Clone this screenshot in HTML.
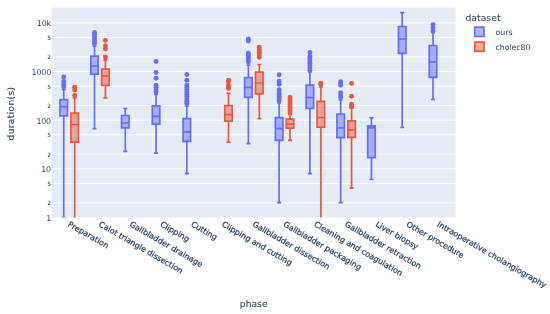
<!DOCTYPE html>
<html><head><meta charset="utf-8"><title>duration by phase</title>
<style>html,body{margin:0;padding:0;background:#fff}body{width:550px;height:314px;overflow:hidden}</style></head>
<body>
<svg width="550" height="314" viewBox="0 0 550 314" style="display:block">
<rect width="550" height="314" fill="#fff"/>
<rect x="51.6" y="7.6" width="404.09999999999997" height="209.9" fill="#e5ecf6"/>
<g stroke="#fff" stroke-width="0.95">
<line x1="51.6" x2="455.7" y1="202.85" y2="202.85"/>
<line x1="51.6" x2="455.7" y1="183.50" y2="183.50"/>
<line x1="51.6" x2="455.7" y1="168.85" y2="168.85"/>
<line x1="51.6" x2="455.7" y1="154.20" y2="154.20"/>
<line x1="51.6" x2="455.7" y1="134.85" y2="134.85"/>
<line x1="51.6" x2="455.7" y1="120.20" y2="120.20"/>
<line x1="51.6" x2="455.7" y1="105.55" y2="105.55"/>
<line x1="51.6" x2="455.7" y1="86.20" y2="86.20"/>
<line x1="51.6" x2="455.7" y1="71.55" y2="71.55"/>
<line x1="51.6" x2="455.7" y1="56.90" y2="56.90"/>
<line x1="51.6" x2="455.7" y1="37.55" y2="37.55"/>
<line x1="51.6" x2="455.7" y1="22.90" y2="22.90"/>
</g>
<clipPath id="cp"><rect x="51.6" y="7.6" width="404.09999999999997" height="209.9"/></clipPath>
<g clip-path="url(#cp)">
<g stroke="#636efa" stroke-width="1.7" fill="#636efa" fill-opacity="0.5"><path d="M60.00,106.70H67.50M60.00,115.80H67.50V99.60H60.00ZM63.75,115.80V217.50M63.75,99.60V89.50M61.75,89.50H65.75M61.75,217.50H65.75"/></g><g fill="#636efa"><circle cx="63.75" cy="76.90" r="2.45"/><circle cx="63.75" cy="81.50" r="2.45"/><circle cx="63.75" cy="84.15" r="2.45"/><circle cx="63.75" cy="86.80" r="2.45"/></g>
<g stroke="#636efa" stroke-width="1.7" fill="#636efa" fill-opacity="0.5"><path d="M90.77,66.00H98.27M90.77,74.20H98.27V56.20H90.77ZM94.52,74.20V128.70M94.52,56.20V46.00M92.52,46.00H96.52M92.52,128.70H96.52"/></g><g fill="#636efa"><circle cx="94.52" cy="32.40" r="2.45"/><circle cx="94.52" cy="34.60" r="2.45"/><circle cx="94.52" cy="36.80" r="2.45"/><circle cx="94.52" cy="39.00" r="2.45"/><circle cx="94.52" cy="41.20" r="2.45"/><circle cx="94.52" cy="43.40" r="2.45"/></g>
<g stroke="#636efa" stroke-width="1.7" fill="#636efa" fill-opacity="0.5"><path d="M121.54,123.00H129.04M121.54,127.80H129.04V115.50H121.54ZM125.29,127.80V151.30M125.29,115.50V108.50M123.29,108.50H127.29M123.29,151.30H127.29"/></g>
<g stroke="#636efa" stroke-width="1.7" fill="#636efa" fill-opacity="0.5"><path d="M152.31,116.30H159.81M152.31,124.10H159.81V105.90H152.31ZM156.06,124.10V153.10M156.06,105.90V94.50M154.06,94.50H158.06M154.06,153.10H158.06"/></g><g fill="#636efa"><circle cx="156.06" cy="61.50" r="2.45"/><circle cx="156.06" cy="72.40" r="2.45"/><circle cx="156.06" cy="78.20" r="2.45"/><circle cx="156.06" cy="85.20" r="2.45"/><circle cx="156.06" cy="87.47" r="2.45"/><circle cx="156.06" cy="89.73" r="2.45"/><circle cx="156.06" cy="92.00" r="2.45"/></g>
<g stroke="#636efa" stroke-width="1.7" fill="#636efa" fill-opacity="0.5"><path d="M183.08,131.90H190.58M183.08,141.30H190.58V118.60H183.08ZM186.83,141.30V173.60M186.83,118.60V106.00M184.83,106.00H188.83M184.83,173.60H188.83"/></g><g fill="#636efa"><circle cx="186.83" cy="74.50" r="2.45"/><circle cx="186.83" cy="80.30" r="2.45"/><circle cx="186.83" cy="85.10" r="2.45"/><circle cx="186.83" cy="87.40" r="2.45"/><circle cx="186.83" cy="89.70" r="2.45"/><circle cx="186.83" cy="92.00" r="2.45"/><circle cx="186.83" cy="94.30" r="2.45"/><circle cx="186.83" cy="96.60" r="2.45"/><circle cx="186.83" cy="98.90" r="2.45"/><circle cx="186.83" cy="101.20" r="2.45"/><circle cx="186.83" cy="103.50" r="2.45"/></g>
<g stroke="#636efa" stroke-width="1.7" fill="#636efa" fill-opacity="0.5"><path d="M244.62,87.30H252.12M244.62,97.30H252.12V77.60H244.62ZM248.37,97.30V143.60M248.37,77.60V65.00M246.37,65.00H250.37M246.37,143.60H250.37"/></g><g fill="#636efa"><circle cx="248.37" cy="38.90" r="2.45"/><circle cx="248.37" cy="41.00" r="2.45"/><circle cx="248.37" cy="53.20" r="2.45"/><circle cx="248.37" cy="55.40" r="2.45"/><circle cx="248.37" cy="57.60" r="2.45"/><circle cx="248.37" cy="59.80" r="2.45"/><circle cx="248.37" cy="62.00" r="2.45"/></g>
<g stroke="#636efa" stroke-width="1.7" fill="#636efa" fill-opacity="0.5"><path d="M275.39,128.70H282.89M275.39,140.40H282.89V117.60H275.39ZM279.14,140.40V202.70M279.14,117.60V103.00M277.14,103.00H281.14M277.14,202.70H281.14"/></g><g fill="#636efa"><circle cx="279.14" cy="74.70" r="2.45"/><circle cx="279.14" cy="81.20" r="2.45"/><circle cx="279.14" cy="84.20" r="2.45"/><circle cx="279.14" cy="89.80" r="2.45"/><circle cx="279.14" cy="92.00" r="2.45"/><circle cx="279.14" cy="94.20" r="2.45"/><circle cx="279.14" cy="96.40" r="2.45"/><circle cx="279.14" cy="98.60" r="2.45"/><circle cx="279.14" cy="100.80" r="2.45"/></g>
<g stroke="#636efa" stroke-width="1.7" fill="#636efa" fill-opacity="0.5"><path d="M306.16,97.50H313.66M306.16,108.50H313.66V85.20H306.16ZM309.91,108.50V173.60M309.91,85.20V72.00M307.91,72.00H311.91M307.91,173.60H311.91"/></g><g fill="#636efa"><circle cx="309.91" cy="52.40" r="2.45"/><circle cx="309.91" cy="56.30" r="2.45"/><circle cx="309.91" cy="58.62" r="2.45"/><circle cx="309.91" cy="60.93" r="2.45"/><circle cx="309.91" cy="63.25" r="2.45"/><circle cx="309.91" cy="65.57" r="2.45"/><circle cx="309.91" cy="67.88" r="2.45"/><circle cx="309.91" cy="70.20" r="2.45"/></g>
<g stroke="#636efa" stroke-width="1.7" fill="#636efa" fill-opacity="0.5"><path d="M336.93,127.80H344.43M336.93,137.70H344.43V114.00H336.93ZM340.68,137.70V202.70M340.68,114.00V100.00M338.68,100.00H342.68M338.68,202.70H342.68"/></g><g fill="#636efa"><circle cx="340.68" cy="81.70" r="2.45"/><circle cx="340.68" cy="83.50" r="2.45"/><circle cx="340.68" cy="85.20" r="2.45"/><circle cx="340.68" cy="92.60" r="2.45"/><circle cx="340.68" cy="95.10" r="2.45"/><circle cx="340.68" cy="97.60" r="2.45"/></g>
<g stroke="#636efa" stroke-width="1.7" fill="#636efa" fill-opacity="0.5"><path d="M367.70,127.90H375.20M367.70,157.70H375.20V125.80H367.70ZM371.45,157.70V179.50M371.45,125.80V117.90M369.45,117.90H373.45M369.45,179.50H373.45"/></g>
<g stroke="#636efa" stroke-width="1.7" fill="#636efa" fill-opacity="0.5"><path d="M398.47,39.00H405.97M398.47,53.30H405.97V26.50H398.47ZM402.22,53.30V127.30M402.22,26.50V12.60M400.22,12.60H404.22M400.22,127.30H404.22"/></g>
<g stroke="#636efa" stroke-width="1.7" fill="#636efa" fill-opacity="0.5"><path d="M429.24,61.80H436.74M429.24,77.30H436.74V45.50H429.24ZM432.99,77.30V99.50M432.99,45.50V32.50M430.99,32.50H434.99M430.99,99.50H434.99"/></g><g fill="#636efa"><circle cx="432.99" cy="24.60" r="2.45"/><circle cx="432.99" cy="27.70" r="2.45"/><circle cx="432.99" cy="31.00" r="2.45"/></g>
<g stroke="#ef553b" stroke-width="1.7" fill="#ef553b" fill-opacity="0.5"><path d="M70.90,124.50H78.40M70.90,142.20H78.40V113.00H70.90ZM74.65,142.20V230.00M74.65,113.00V98.00M72.65,98.00H76.65"/></g><g fill="#ef553b"><circle cx="74.65" cy="87.30" r="2.45"/><circle cx="74.65" cy="90.00" r="2.45"/><circle cx="74.65" cy="95.50" r="2.45"/></g>
<g stroke="#ef553b" stroke-width="1.7" fill="#ef553b" fill-opacity="0.5"><path d="M101.67,76.00H109.17M101.67,85.50H109.17V69.10H101.67ZM105.42,85.50V97.80M105.42,69.10V59.80M103.42,59.80H107.42M103.42,97.80H107.42"/></g><g fill="#ef553b"><circle cx="105.42" cy="40.40" r="2.45"/><circle cx="105.42" cy="45.80" r="2.45"/><circle cx="105.42" cy="49.00" r="2.45"/><circle cx="105.42" cy="57.00" r="2.45"/></g>
<g stroke="#ef553b" stroke-width="1.7" fill="#ef553b" fill-opacity="0.5"><path d="M224.75,114.70H232.25M224.75,121.20H232.25V105.50H224.75ZM228.50,121.20V142.20M228.50,105.50V93.30M226.50,93.30H230.50M226.50,142.20H230.50"/></g><g fill="#ef553b"><circle cx="228.50" cy="80.30" r="2.45"/><circle cx="228.50" cy="82.00" r="2.45"/><circle cx="228.50" cy="85.30" r="2.45"/><circle cx="228.50" cy="87.00" r="2.45"/><circle cx="228.50" cy="88.50" r="2.45"/></g>
<g stroke="#ef553b" stroke-width="1.7" fill="#ef553b" fill-opacity="0.5"><path d="M255.52,83.00H263.02M255.52,93.80H263.02V72.10H255.52ZM259.27,93.80V118.70M259.27,72.10V64.50M257.27,64.50H261.27M257.27,118.70H261.27"/></g><g fill="#ef553b"><circle cx="259.27" cy="47.30" r="2.45"/><circle cx="259.27" cy="49.80" r="2.45"/><circle cx="259.27" cy="52.30" r="2.45"/><circle cx="259.27" cy="54.80" r="2.45"/><circle cx="259.27" cy="57.30" r="2.45"/></g>
<g stroke="#ef553b" stroke-width="1.7" fill="#ef553b" fill-opacity="0.5"><path d="M286.29,124.20H293.79M286.29,128.20H293.79V119.10H286.29ZM290.04,128.20V140.40M290.04,119.10V114.50M288.04,114.50H292.04M288.04,140.40H292.04"/></g><g fill="#ef553b"><circle cx="290.04" cy="97.30" r="2.45"/><circle cx="290.04" cy="99.54" r="2.45"/><circle cx="290.04" cy="101.79" r="2.45"/><circle cx="290.04" cy="104.03" r="2.45"/><circle cx="290.04" cy="106.27" r="2.45"/><circle cx="290.04" cy="108.51" r="2.45"/><circle cx="290.04" cy="110.76" r="2.45"/><circle cx="290.04" cy="113.00" r="2.45"/></g>
<g stroke="#ef553b" stroke-width="1.7" fill="#ef553b" fill-opacity="0.5"><path d="M317.06,117.50H324.56M317.06,127.10H324.56V101.30H317.06ZM320.81,127.10V230.00M320.81,101.30V87.00M318.81,87.00H322.81"/></g><g fill="#ef553b"><circle cx="320.81" cy="83.20" r="2.45"/><circle cx="320.81" cy="84.60" r="2.45"/></g>
<g stroke="#ef553b" stroke-width="1.7" fill="#ef553b" fill-opacity="0.5"><path d="M347.83,129.80H355.33M347.83,137.30H355.33V120.90H347.83ZM351.58,137.30V188.20M351.58,120.90V108.20M349.58,108.20H353.58M349.58,188.20H353.58"/></g><g fill="#ef553b"><circle cx="351.58" cy="83.40" r="2.45"/><circle cx="351.58" cy="96.30" r="2.45"/><circle cx="351.58" cy="104.20" r="2.45"/><circle cx="351.58" cy="106.40" r="2.45"/></g>
</g>
<g font-family='"DejaVu Sans","Liberation Sans",sans-serif' fill="#2a3f5f" stroke="#2a3f5f" stroke-width="0">
<text x="51.0" y="220.94" font-size="7.9" text-anchor="end" letter-spacing="-0.15">1</text>
<text x="50.9" y="205.16" font-size="5.85" text-anchor="end">2</text>
<text x="50.9" y="185.80" font-size="5.85" text-anchor="end">5</text>
<text x="51.0" y="172.29" font-size="7.9" text-anchor="end" letter-spacing="-0.15">10</text>
<text x="50.9" y="156.51" font-size="5.85" text-anchor="end">2</text>
<text x="50.9" y="137.15" font-size="5.85" text-anchor="end">5</text>
<text x="51.0" y="123.64" font-size="7.9" text-anchor="end" letter-spacing="-0.15">100</text>
<text x="50.9" y="107.86" font-size="5.85" text-anchor="end">2</text>
<text x="50.9" y="88.50" font-size="5.85" text-anchor="end">5</text>
<text x="51.0" y="74.99" font-size="7.9" text-anchor="end" letter-spacing="-0.15">1000</text>
<text x="50.9" y="59.21" font-size="5.85" text-anchor="end">2</text>
<text x="50.9" y="39.85" font-size="5.85" text-anchor="end">5</text>
<text x="51.0" y="26.34" font-size="7.9" text-anchor="end" letter-spacing="-0.15">10k</text>
<text font-size="7.9" stroke-width="0.22" transform="translate(70.20,220.90) rotate(30)" x="0" y="5.7">Preparation</text>
<text font-size="7.9" stroke-width="0.22" transform="translate(100.97,220.90) rotate(30)" x="0" y="5.7">Calot triangle dissection</text>
<text font-size="7.9" stroke-width="0.22" transform="translate(131.74,220.90) rotate(30)" x="0" y="5.7">Gallbladder drainage</text>
<text font-size="7.9" stroke-width="0.22" transform="translate(162.51,220.90) rotate(30)" x="0" y="5.7">Clipping</text>
<text font-size="7.9" stroke-width="0.22" transform="translate(193.28,220.90) rotate(30)" x="0" y="5.7">Cutting</text>
<text font-size="7.9" stroke-width="0.22" transform="translate(224.05,220.90) rotate(30)" x="0" y="5.7">Clipping and cutting</text>
<text font-size="7.9" stroke-width="0.22" transform="translate(254.82,220.90) rotate(30)" x="0" y="5.7">Gallbladder dissection</text>
<text font-size="7.9" stroke-width="0.22" transform="translate(285.59,220.90) rotate(30)" x="0" y="5.7">Gallbladder packaging</text>
<text font-size="7.9" stroke-width="0.22" transform="translate(316.36,220.90) rotate(30)" x="0" y="5.7">Cleaning and coagulation</text>
<text font-size="7.9" stroke-width="0.22" transform="translate(347.13,220.90) rotate(30)" x="0" y="5.7">Gallbladder retraction</text>
<text font-size="7.9" stroke-width="0.22" transform="translate(377.90,220.90) rotate(30)" x="0" y="5.7">Liver biopsy</text>
<text font-size="7.9" stroke-width="0.22" transform="translate(408.67,220.90) rotate(30)" x="0" y="5.7">Other procedure</text>
<text font-size="7.9" stroke-width="0.22" transform="translate(439.44,220.90) rotate(30)" x="0" y="5.7">Intraoperative cholangiography</text>
<text x="253.7" y="306.5" font-size="9.2" stroke-width="0.08" text-anchor="middle">phase</text>
<text transform="translate(14,113.5) rotate(-90)" font-size="9.1" stroke-width="0.08" letter-spacing="0.35" text-anchor="middle">duration(s)</text>
<text x="465.4" y="21.0" font-size="9.3" stroke-width="0.05">dataset</text>
<text x="495.5" y="35" font-size="7.9">ours</text>
<text x="495.5" y="49.9" font-size="7.9" letter-spacing="-0.08">cholec80</text>
</g>
<rect x="474.75" y="27.15" width="9.3" height="9.3" fill="#636efa" fill-opacity="0.5" stroke="#636efa" stroke-width="1.7"/>
<rect x="474.75" y="42.05" width="9.3" height="9.3" fill="#ef553b" fill-opacity="0.5" stroke="#ef553b" stroke-width="1.7"/>
</svg>
</body></html>
